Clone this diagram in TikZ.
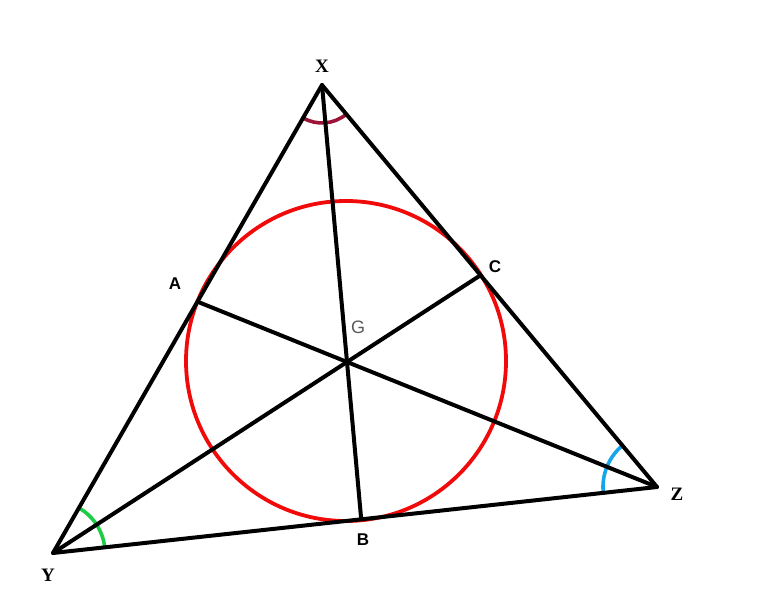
\documentclass[tikz,border=0pt]{standalone}
\usepackage{fontspec}
\setmainfont{Liberation Serif}
\setsansfont{Liberation Sans}
\usetikzlibrary{angles,calc}
\definecolor{arcX}{RGB}{155,20,55}
\definecolor{arcY}{RGB}{30,205,70}
\definecolor{arcZ}{RGB}{20,165,235}
\definecolor{circ}{RGB}{240,10,10}
\begin{document}
\begin{tikzpicture}[x=1pt,y=1pt,
  side/.style={line width=4pt,black,line cap=round,line join=round},
  incirc/.style={line width=3.8pt,circ},
  angarc/.style={line width=3.6pt,draw},
  vlab/.style={font=\rmfamily\bfseries\fontsize{19}{19}\selectfont},
  plab/.style={font=\sffamily\bfseries\fontsize{17}{17}\selectfont},
  glab/.style={font=\sffamily\fontsize{18}{18}\selectfont,text=black!65}]
\useasboundingbox (0,0) rectangle (768,600);
\coordinate (X) at (322,515);
\coordinate (Y) at (53,47);
\coordinate (Z) at (657,113);
\coordinate (G) at (347,238);
\coordinate (O) at (346,239);
\coordinate (A) at (intersection of Z--G and X--Y);
\coordinate (B) at (intersection of X--G and Y--Z);
\coordinate (C) at (intersection of Y--G and X--Z);
\draw[incirc] (O) circle (160);
\pic[angarc,arcX,angle radius=38pt] {angle=Y--X--Z};
\pic[angarc,arcY,angle radius=52pt] {angle=Z--Y--X};
\pic[angarc,arcZ,angle radius=54pt] {angle=X--Z--Y};
\draw[side] (X) -- (Y) -- (Z) -- cycle;
\draw[side] (X) -- (B);
\draw[side] (Y) -- (C);
\draw[side] (Z) -- (A);
\node[vlab] (lX) at (322,534) {X};
\node[vlab] (lY) at (48,25) {Y};
\node[vlab] (lZ) at (677,106) {Z};
\node[plab] (lA) at (175,316) {A};
\node[plab] (lB) at (363,60) {B};
\node[plab] (lC) at (495,333) {C};
\node[glab] (lG) at (358,273) {G};
\end{tikzpicture}
\end{document}
